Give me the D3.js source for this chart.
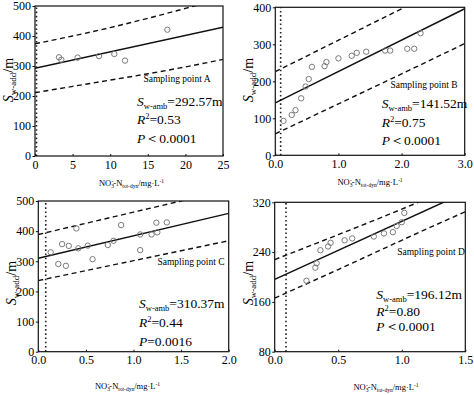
<!DOCTYPE html>
<html><head><meta charset="utf-8">
<script src="https://cdn.jsdelivr.net/npm/d3@7"></script>
<style>
body{margin:0;background:#fff}
svg{display:block}
text{font-family:"Liberation Serif","Times New Roman",serif;fill:#000}
</style>
</head><body>
<svg id="c" width="474" height="395"></svg>
<script>
// ---------- data ----------
// Panel A
const xA = [3.19, 3.5, 5.67, 8.51, 10.55, 11.97, 17.6];
const yA = [329, 321, 328, 333, 340, 318, 421];
const fitA = [[0, 292.57], [25, 429]];
const upA = [[0, 374], [5, 400], [10, 428], [15, 459], [20, 492], [25, 526]];
const loA = [[0, 211], [5, 232], [10, 253], [15, 274], [20, 297], [25, 322]];
const xTicksA = [0, 5, 10, 15, 20, 25];
const yTicksA = [0, 100, 200, 300, 400, 500];
const vlineA = 0.2;
const statsA = ["292.57m", "0.53", "＜0.0001"];

// Panel B
const xB = [0.13, 0.26, 0.32, 0.41, 0.48, 0.53, 0.58, 0.78, 0.81, 1.0, 1.21, 1.29, 1.44, 1.74, 1.82, 2.09, 2.2, 2.3];
const yB = [93, 109, 122, 154, 186, 206, 239, 241, 252, 262, 269, 277, 280, 283, 283, 288, 288, 330];
const fitB = [[0, 141.52], [3, 396]];
const upB = [[0, 226], [1, 311], [2, 396], [2.2, 413]];
const loB = [[0, 58], [1, 139], [2, 220], [3, 302]];
const xTicksB = [0, 1, 2, 3];
const yTicksB = [0, 100, 200, 300, 400];
const vlineB = 0.085;
const statsB = ["141.52m", "0.75", "＜0.0001"];

// Panel C
const xC = [0.13, 0.21, 0.25, 0.29, 0.32, 0.40, 0.42, 0.52, 0.57, 0.73, 0.79, 0.87, 1.07, 1.07, 1.19, 1.24, 1.25, 1.35];
const yC = [330, 291, 357, 285, 351, 409, 343, 352, 307, 354, 368, 420, 337, 389, 389, 428, 396, 429];
const fitC = [[0, 310.37], [2, 459]];
const upC = [[0, 389], [0.5, 426], [1, 463], [1.5, 500], [2, 537]];
const loC = [[0, 236], [0.5, 269], [1, 302], [1.5, 335], [2, 368]];
const xTicksC = [0, 0.5, 1, 1.5, 2];
const yTicksC = [0, 100, 200, 300, 400, 500];
const vlineC = 0.078;
const statsC = ["310.37m", "0.44", "=0.0016"];

// Panel D
const xD = [0.25, 0.32, 0.33, 0.36, 0.42, 0.44, 0.55, 0.61, 0.78, 0.86, 0.93, 0.96, 1.0, 1.02];
const yD = [194, 215, 222, 243, 249, 255, 259, 262, 265, 270, 272, 282, 288, 303];
const fitD = [[0, 196.12], [1.5, 336]];
const upD = [[0, 228], [0.5, 268], [1, 309], [1.2, 326]];
const loD = [[0, 166], [0.5, 212], [1, 259], [1.5, 305]];
const xTicksD = [0, 0.5, 1, 1.5];
const yTicksD = [80, 160, 240, 320];
const vlineD = 0.089;
const statsD = ["196.12m", "0.80", "＜0.0001"];

// ---------- layout ----------
const panels = [
  {id:"A", xs:xA, ys:yA, fit:fitA, up:upA, lo:loA, xt:xTicksA, yt:yTicksA, vl:vlineA, st:statsA,
   xd:[0,25], yd:[0,500], x0:35, x1:223, y0:156, y1:6, fmt:d3.format("d"),
   ylab:[13,80], xlab:[131.5,186], lab:[177,81.5], sx:137, sy:[106,124,143]},
  {id:"B", xs:xB, ys:yB, fit:fitB, up:upB, lo:loB, xt:xTicksB, yt:yTicksB, vl:vlineB, st:statsB,
   xd:[0,3], yd:[0,400], x0:275.3, x1:464.7, y0:155.3, y1:7.3, fmt:d3.format(".1f"),
   ylab:[253,80], xlab:[370,185], lab:[424,87.5], sx:381.7, sy:[108,127,145]},
  {id:"C", xs:xC, ys:yC, fit:fitC, up:upC, lo:loC, xt:xTicksC, yt:yTicksC, vl:vlineC, st:statsC,
   xd:[0,2], yd:[0,500], x0:38.3, x1:228.7, y0:351.7, y1:201, fmt:d3.format(".1f"),
   ylab:[16,283], xlab:[127.5,389], lab:[191,265], sx:139, sy:[308,327,346]},
  {id:"D", xs:xD, ys:yD, fit:fitD, up:upD, lo:loD, xt:xTicksD, yt:yTicksD, vl:vlineD, st:statsD,
   xd:[0,1.5], yd:[80,320], x0:274.7, x1:465.3, y0:351.7, y1:202.3, fmt:d3.format(".1f"),
   ylab:[253,283], xlab:[386,390], lab:[431,255], sx:376.3, sy:[299,316,331]}
];

const svg = d3.select("#c");
const defs = svg.append("defs");

panels.forEach(p => {
  const x = d3.scaleLinear().domain(p.xd).range([p.x0, p.x1]);
  const y = d3.scaleLinear().domain(p.yd).range([p.y0, p.y1]);
  const g = svg.append("g");
  const cid = "clip" + p.id;
  defs.append("clipPath").attr("id", cid).append("rect")
    .attr("x", p.x0).attr("y", p.y1).attr("width", p.x1 - p.x0).attr("height", p.y0 - p.y1);

  const line = d3.line().x(d => x(d[0])).y(d => y(d[1])).curve(d3.curveMonotoneX);
  const cg = g.append("g").attr("clip-path", `url(#${cid})`);

  // vertical dotted line
  cg.append("line").attr("x1", x(p.vl)).attr("x2", x(p.vl)).attr("y1", p.y0).attr("y2", p.y1)
    .attr("stroke", "#222").attr("stroke-width", 1.6).attr("stroke-dasharray", "1.6,2.6");

  // bands
  [p.up, p.lo].forEach(b => cg.append("path").attr("d", line(b)).attr("fill", "none")
    .attr("stroke", "#111").attr("stroke-width", 1.4).attr("stroke-dasharray", "5,3.5"));
  // fit
  cg.append("path").attr("d", line(p.fit)).attr("fill", "none").attr("stroke", "#111").attr("stroke-width", 1.5);

  // points
  cg.selectAll("circle").data(p.xs.map((v, i) => [v, p.ys[i]])).join("circle")
    .attr("cx", d => x(d[0])).attr("cy", d => y(d[1])).attr("r", 2.7)
    .attr("fill", "none").attr("stroke", "#7a7a7a").attr("stroke-width", 1);

  // axes
  const xa = g.append("g").attr("transform", `translate(0,${p.y0})`)
    .call(d3.axisBottom(x).tickValues(p.xt).tickFormat(p.fmt).tickSize(-2).tickPadding(4));
  const ya = g.append("g").attr("transform", `translate(${p.x0},0)`)
    .call(d3.axisLeft(y).tickValues(p.yt).tickFormat(d3.format("d")).tickSize(2.5).tickPadding(1.5));
  [xa, ya].forEach(a => {
    a.select(".domain").remove();
    a.selectAll("line").attr("stroke", "#111");
    a.selectAll("text").style("font-family", '"Liberation Serif",serif').style("font-size", "12px")
      .attr("fill", "#111");
  });
  // frame
  g.append("rect").attr("x", p.x0).attr("y", p.y1).attr("width", p.x1 - p.x0).attr("height", p.y0 - p.y1)
    .attr("fill", "none").attr("stroke", "#111").attr("stroke-width", 1.2);

  // y label
  const yl = g.append("text").attr("transform", `translate(${p.ylab[0]},${p.ylab[1]}) rotate(-90)`)
    .attr("text-anchor", "middle").style("font-size", "14px");
  yl.append("tspan").text("S").style("font-style", "italic");
  yl.append("tspan").text("w-add").style("font-size", "9px").attr("dy", 3);
  yl.append("tspan").text("/m").attr("dy", -3);

  // x label
  const xl = g.append("text").attr("x", p.xlab[0]).attr("y", p.xlab[1]).attr("text-anchor", "middle")
    .style("font-size", "8.5px");
  xl.append("tspan").text("NO");
  xl.append("tspan").text("3").style("font-size", "5.5px").attr("dy", 1.5);
  xl.append("tspan").text("-").style("font-size", "5.5px").attr("dy", -5).attr("dx", -2.5);
  xl.append("tspan").text("-N").attr("dy", 3.5);
  xl.append("tspan").text("tot-dyn").style("font-size", "5.5px").attr("dy", 1.5);
  xl.append("tspan").text("/mg·L").attr("dy", -1.5);
  xl.append("tspan").text("-1").style("font-size", "5.5px").attr("dy", -3.5);

  // sampling point label
  g.append("text").attr("x", p.lab[0]).attr("y", p.lab[1]).attr("text-anchor", "middle")
    .style("font-size", "9.5px").text("Sampling point " + p.id);

  // stats
  const s1 = g.append("text").attr("x", p.sx).attr("y", p.sy[0]).style("font-size", "13.5px");
  s1.append("tspan").text("S").style("font-style", "italic");
  s1.append("tspan").text("w-amb").style("font-size", "8.5px").attr("dy", 2.5);
  s1.append("tspan").text("=" + p.st[0]).attr("dy", -2.5);
  const s2 = g.append("text").attr("x", p.sx).attr("y", p.sy[1]).style("font-size", "13.5px");
  s2.append("tspan").text("R").style("font-style", "italic");
  s2.append("tspan").text("2").style("font-size", "8.5px").attr("dy", -5);
  s2.append("tspan").text("=" + p.st[1]).attr("dy", 5);
  const s3 = g.append("text").attr("x", p.sx).attr("y", p.sy[2]).style("font-size", "13.5px");
  s3.append("tspan").text("P").style("font-style", "italic");
  s3.append("tspan").text(p.st[2]);
});
</script>
</body></html>
